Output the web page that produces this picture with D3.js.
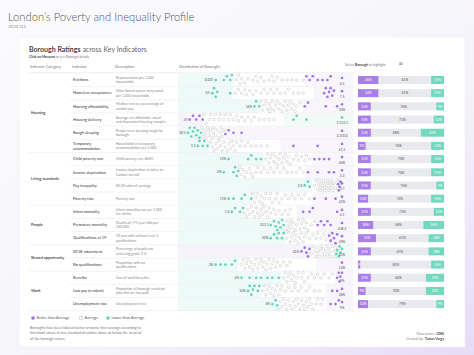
<!DOCTYPE html>
<html><head><meta charset="utf-8">
<script src="https://cdn.jsdelivr.net/npm/d3@7"></script>
<style>html,body{margin:0;padding:0;background:#f7f6fa;overflow:hidden}svg{display:block;font-family:Lato,"Open Sans",sans-serif}</style>
</head><body><svg id="c" width="474" height="355"></svg>
<script>
// ---------- data ----------
const categories = ["Housing","Living standards","People","Shared opportunity","Work"];
const categorySizes = [6,4,3,2,3];
const indicators = ["Evictions","Homeless acceptances","Housing affordability","Housing delivery","Rough sleeping","Temporary accommodation",
 "Child poverty rate","Income deprivation","Pay inequality","Poverty rate",
 "Infant mortality","Premature mortality","Qualifications at 19",
 "GCSE attainment","No qualifications",
 "Benefits","Low pay (resident)","Unemployment rate"];
const descriptions = [
 ["Repossessions per 1,000","households"],
 ["Main homelessness duty owed","per 1,000 households"],
 ["Median rent as a percentage of","median pay"],
 ["Average net affordable, social","and discounted housing complet."],
 ["People seen sleeping rough by","borough"],
 ["Households in temporary","accommodation per 1,000"],
 ["Child poverty rate (AHC)"],
 ["Income deprivation (relative to","London overall)"],
 ["80:20 ratio of earnings"],
 ["Poverty rate"],
 ["Infant mortality rate per 1,000","live births"],
 ["Deaths of <75 year olds per","100,000"],
 ["19 year olds without level 3","qualifications"],
 ["Percentage of pupils not","achieving grade 9-4"],
 ["Proportion with no","qualifications"],
 ["Out-of-work benefits"],
 ["Proportion of borough residents'","jobs that are low paid"],
 ["Unemployment rate"]];
const betterPct  = [24,24,15,15,15, 9,15,15,15,12,15,18,21,15, 3,15, 9,12];
const averagePct = [61,61,76,73,58,76,70,70,76,73,73,58,61,67,82,64,70,79];
const worsePct   = [15,15, 9,12,27,15,15,15, 9,15,12,24,18,18,15,21,21, 9];
// which rating sits at the left end of each row's distribution
const leftGroup = ["worse","worse","worse","better","worse","worse","worse","worse","worse","worse","worse","worse","worse","better","worse","worse","worse","worse"];
const minLabels = ["0.007","0.5","14%","25","30.3","3.3","12%","2%","2.0","11%","1.6","233.3","20%","41%","2%","4%","14%","4%"];
const maxLabels = ["4.5","7.5","33%","1,153.3","2,150.0","61.3","46%","3.3","3.7","41%","4.1","438.2","39%","62%","14%","9%","28%","9%"];
// borough positions along each row (0 = left end, 100 = right end)
const boroughPositions = [
 [22,27,29,31,32,35,36,37,38,40,42,45,47,48,50,52,55,57,58,60,63,66,69,72,76,78,80,82,85,88,91,93,100],
 [20,21,22,23,31,34,36,38,40,41,43,45,47,50,52,54,56,58,60,62,65,67,70,73,76,89,90,91,92,93,94,95,100],
 [46,47,49,50,51,52,53,54,55,55.5,56,57,58,59,60,61,62,63,64,65,66,67,68,69,70,71,72,74,77,79,90,97,100],
 [6,8,10,12,14,15,16,18,19,21,22,24,25,27,28,30,31,33,35,36,38,40,42,44,46,49,52,55,58,70,72,78,100],
 [5,6,7,8,9,10,11,12,13,13.5,14,15,15.5,16,17,17.5,18,19,20,20.5,21,22,23,24,25,25.5,26,27,28,30,33,38,100],
 [11,12,14,15,17,19,20,21,22,23,24,25,26,27,28,29,30,31,32,33,34,35,37,38,40,42,44,47,50,54,70,85,100],
 [30,42,44,47,50,53,54,55,56,57,58,59,60,61,62,63,64,65,66,67,68,70,72,73,75,77,78,80,83,86,89,92,100],
 [27,33,34,35,36,37,38,39,40,41,43,44,45,47,48,50,52,54,56,58,60,62,64,66,69,72,74,76,79,85,92,95,100],
 [77,79,80,83,84,85,85.5,86,86.5,87,87.5,88,88.5,89,89.5,90,90.5,91,91.5,92,92.5,93,93.5,94,94.5,95,96,97,97.5,98,98.5,99,100],
 [30,33,38,40,44,45,46,47,48,49,50,51,52,53,55,56,57,59,60,61,63,65,67,69,71,73,75,77,80,83,90,96,100],
 [32,34,37,39,40,41,42,43,44,45,46,47,48,49,50,51,52,53,54,55,56,58,59,61,63,65,67,68,76,80,82,97,100],
 [56,58,59,60,61,62,63,64,65,66,66.5,67,68,68.5,69,70,71,72,73,74,75,76,77,78,79,81,83,85,87,89,91,93,100],
 [56,58,60,61,63,64,66,67,68,69,70,71,72,73,74,75,76,77,78,80,82,84,85,87,89,90,92,93,94,95,96,97,100],
 [75,77,78,79,80,81,82,83,84,84.5,85,86,86.5,87,88,88.5,89,90,90.5,91,92,92.5,93,94,95,95.5,96,96.5,97,98,98.5,99,100],
 [22,25,28,32,34,38,39,40,41,42,43,44,45,46,47,48,49,50,51,52,53,54,55,56,57,58,59,60,62,64,66,68,100],
 [38,43,47,50,54,57,61,64,65,66,67,68,69,70,71,72,73,75,76,77,79,81,83,85,87,89,92,94,97,98,98.5,99,100],
 [42,43,44,45,46,48,49,51,52,53,54,55,56,57,58,59,60,61,62,63,65,67,69,71,73,75,78,80,83,86,94,97,100],
 [57,59,60,61,62,63,64,65,66,67,68,69,70,71,72,73,74,75,76,77,78,79,80,81,82,84,85,87,88,93,96,98,100]];
const legendLabels = ["Better than Average","Average","Lower than Average"];

// ---------- style ----------
const PURPLE="#9c6fe0", TEAL="#5ed1b2", BARP="#a97ee6", BART="#72d8bf", BARG="#e9eaee";
const svg=d3.select("#c");
const defs=svg.append("defs");
const bg=defs.append("linearGradient").attr("id","bg").attr("x1","0").attr("y1","0").attr("x2","1").attr("y2","1");
bg.append("stop").attr("offset","0").attr("stop-color","#fbfbfd");
bg.append("stop").attr("offset","0.6").attr("stop-color","#f6f4fa");
bg.append("stop").attr("offset","1").attr("stop-color","#e6dcf7");
svg.append("rect").attr("width",474).attr("height",355).attr("fill","url(#bg)");
svg.append("rect").attr("x",19).attr("y",37).attr("width",446).attr("height",310).attr("fill","#fff").attr("stroke","#efedf3").attr("stroke-width",0.6);

svg.append("text").attr("x",8).attr("y",21).attr("font-size",11.2).attr("font-weight",300).attr("fill","#555").text("London\u2019s Poverty and Inequality Profile");
svg.append("text").attr("x",8).attr("y",28).attr("font-size",4.5).attr("fill","#999").text("2024 Q2");

const h1=svg.append("text").attr("x",29).attr("y",52).attr("font-size",7).attr("fill","#444");
h1.append("tspan").attr("font-weight","bold").text("Borough Ratings");
h1.append("tspan").attr("fill","#666").text(" across Key Indicators");
const h2=svg.append("text").attr("x",29).attr("y",57.5).attr("font-size",3.4).attr("fill","#777");
h2.append("tspan").attr("font-weight","bold").attr("fill","#444").text("Click on Measure");
h2.append("tspan").text(" to see Borough details");

const hdrY=68;
[["Indicator Category",30],["Indicator",72],["Description",115],["Distribution of Boroughs",179]].forEach(([t,x])=>
 svg.append("text").attr("x",x).attr("y",hdrY).attr("font-size",3.8).attr("fill","#777").text(t));
const sel=svg.append("text").attr("x",345).attr("y",66).attr("font-size",3.4).attr("fill","#777");
sel.append("tspan").text("Select ");
sel.append("tspan").attr("font-weight","bold").attr("fill","#444").text("Borough");
sel.append("tspan").text(" to highlight");
svg.append("text").attr("x",399).attr("y",65).attr("font-size",3.4).attr("fill","#666").text("All");

// ---------- scales ----------
const n=indicators.length;
const yRow=d3.scaleBand().domain(d3.range(n)).range([73.4,310.7]);
const rh=yRow.bandwidth();
const xDot=d3.scaleLinear().domain([0,100]).range([180,342]);
const xBar=d3.scaleLinear().domain([0,100]).range([358,444]);
const REG0=178, REG1=353;

svg.append("line").attr("x1",29).attr("x2",355).attr("y1",72.8).attr("y2",72.8).attr("stroke","#dcdcdc").attr("stroke-width",0.5);

// row backgrounds (threshold zones)
boroughPositions.forEach((pos,i)=>{
  const y0=yRow(i);
  const lc=leftGroup[i]==="worse"?worsePct[i]:betterPct[i];
  const rc=leftGroup[i]==="worse"?betterPct[i]:worsePct[i];
  const nl=Math.round(lc*33/100), nr=Math.round(rc*33/100);
  const s=pos.slice().sort((a,b)=>a-b);
  const tl=xDot((s[nl-1]+s[nl])/2), tr=xDot((s[s.length-nr-1]+s[s.length-nr])/2);
  const lcol=leftGroup[i]==="worse"?"#e3f6f1":"#f2ebfb";
  const rcol=leftGroup[i]==="worse"?"#f4eefc":"#e6f7f2";
  svg.append("rect").attr("x",REG0).attr("y",y0+0.4).attr("width",tl-REG0).attr("height",rh-0.8).attr("fill",lcol).attr("opacity",0.6);
  svg.append("rect").attr("x",tr).attr("y",y0+0.4).attr("width",REG1-tr).attr("height",rh-0.8).attr("fill",rcol).attr("opacity",0.6);
});

// separators
let start=0;
categories.forEach((c,ci)=>{
  const k=categorySizes[ci];
  const yc=(yRow(start)+yRow(start+k-1)+rh)/2;
  svg.append("text").attr("x",31).attr("y",yc+1.3).attr("font-size",3.9).attr("fill","#333").attr("font-weight","600").text(c);
  for(let j=start;j<start+k;j++){
    const yb=yRow(j)+rh;
    const x1=(j===start+k-1)?29:70;
    svg.append("line").attr("x1",x1).attr("x2",355).attr("y1",yb).attr("y2",yb).attr("stroke","#e6e6e6").attr("stroke-width",0.5);
  }
  start+=k;
});

// indicator + description text
indicators.forEach((t,i)=>{
  const yc=yRow(i)+rh/2;
  const words = t==="Temporary accommodation"?["Temporary","accommodation"]:[t];
  words.forEach((w,k)=>svg.append("text").attr("x",73).attr("y",yc+1.3+(k-(words.length-1)/2)*4.6).attr("font-size",3.9).attr("fill","#333").text(w));
  const d=descriptions[i];
  d.forEach((w,k)=>svg.append("text").attr("x",116).attr("y",yc+1.2+(k-(d.length-1)/2)*4.3).attr("font-size",3.5).attr("fill","#8a8a8a").text(w));
});

// dots (beeswarm within each row)
const R=1.35, GAP=2*R+1.7;
boroughPositions.forEach((pos,i)=>{
  const yc=yRow(i)+rh/2;
  const lc=leftGroup[i]==="worse"?worsePct[i]:betterPct[i];
  const rc=leftGroup[i]==="worse"?betterPct[i]:worsePct[i];
  const nl=Math.round(lc*33/100), nr=Math.round(rc*33/100);
  const lcol=leftGroup[i]==="worse"?TEAL:PURPLE, rcol=leftGroup[i]==="worse"?PURPLE:TEAL;
  const s=pos.slice().sort((a,b)=>a-b);
  const placed=[];
  const offs=[0,-1,1,-2,2,-3,3,-4,4].map(v=>v*1.25);
  s.forEach((v,k)=>{
    const x=xDot(v);
    let best=offs[0], bestD=-1;
    for(const o of offs){
      let md=Infinity;
      for(const p of placed){const d=Math.hypot(p.x-x,p.o-o); if(d<md)md=d;}
      if(md>=GAP){best=o;bestD=md;break;}
      if(md>bestD){bestD=md;best=o;}
    }
    if(k===s.length-1 && v===100) best=Math.min(best,-2);
    placed.push({x,o:best});
    const col=k<nl?lcol:(k>=s.length-nr?rcol:null);
    svg.append("circle").attr("cx",x).attr("cy",yc+best).attr("r",R)
      .attr("fill",col||"#fff").attr("stroke",col?"none":"#c4c4c4").attr("stroke-width",0.55)
      .attr("opacity",col?0.95:1);
  });
  svg.append("text").attr("x",xDot(s[0])-2.4).attr("y",yc+1.2).attr("text-anchor","end").attr("font-size",3.3).attr("fill","#555").text(minLabels[i]);
  svg.append("text").attr("x",xDot(100)).attr("y",yc+4.6).attr("text-anchor","middle").attr("font-size",3.3).attr("fill","#555").text(maxLabels[i]);
});

// stacked rating bars
indicators.forEach((t,i)=>{
  const y=yRow(i)+rh/2-4;
  const segs=[[betterPct[i],BARP,"#fff"],[averagePct[i],BARG,"#555"],[worsePct[i],BART,"#fff"]];
  let acc=0;
  segs.forEach(([v,c,tc])=>{
    svg.append("rect").attr("x",xBar(acc)).attr("y",y).attr("width",xBar(acc+v)-xBar(acc)).attr("height",8).attr("fill",c);
    svg.append("text").attr("x",(xBar(acc)+xBar(acc+v))/2).attr("y",y+5.3).attr("text-anchor","middle").attr("font-size",3.4).attr("fill",tc).text(v+"%");
    acc+=v;
  });
});

// legend
const lg=[[33,PURPLE,legendLabels[0]],[81,null,legendLabels[1]],[108,TEAL,legendLabels[2]]];
lg.forEach(([x,c,t])=>{
  svg.append("circle").attr("cx",x).attr("cy",318).attr("r",1.8).attr("fill",c||"#fff").attr("stroke",c?"none":"#bbb").attr("stroke-width",0.6);
  svg.append("text").attr("x",x+3.5).attr("y",319.3).attr("font-size",3.8).attr("fill","#555").text(t);
});
["Boroughs have been labeled better or worse than average according to",
 "threshold values of one standard deviation above or below the mean of",
 "all the borough values."].forEach((t,k)=>
 svg.append("text").attr("x",30).attr("y",329+k*5.4).attr("font-size",3.6).attr("fill","#777").text(t));
const ds=svg.append("text").attr("x",444).attr("y",334.5).attr("text-anchor","end").attr("font-size",3.5).attr("fill","#888");
ds.append("tspan").text("Data source: ");ds.append("tspan").attr("font-weight","bold").attr("fill","#444").text("ONS");
const cb=svg.append("text").attr("x",444).attr("y",339.5).attr("text-anchor","end").attr("font-size",3.5).attr("fill","#888");
cb.append("tspan").text("Created by: ");cb.append("tspan").attr("font-weight","bold").attr("fill","#444").text("Tamas Varga");
</script></body></html>
